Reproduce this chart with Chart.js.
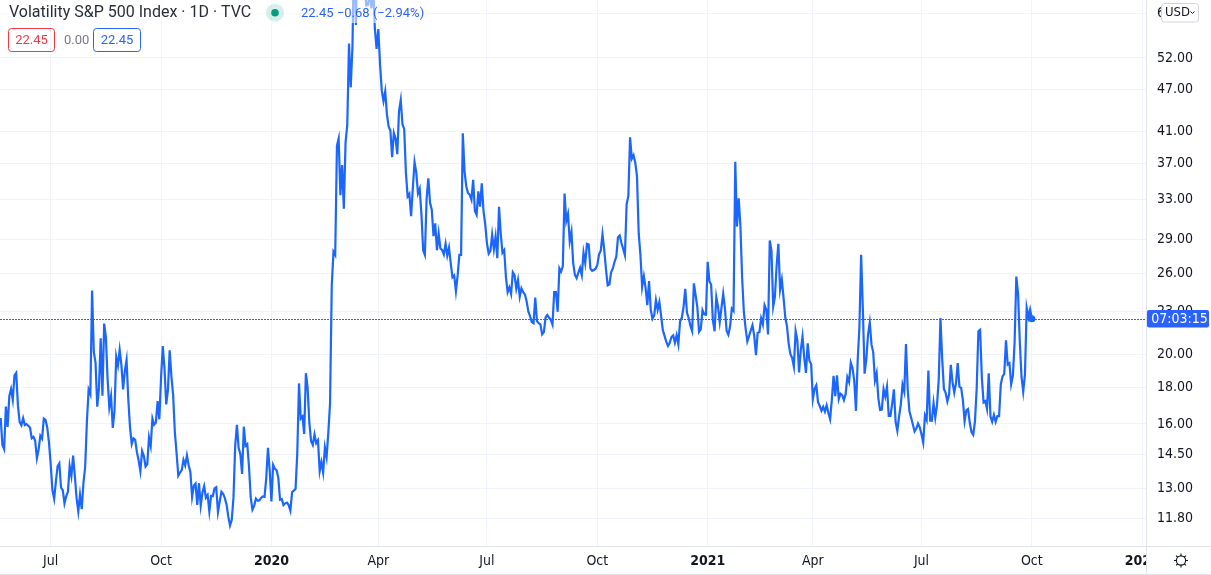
<!DOCTYPE html>
<html><head><meta charset="utf-8">
<script src="https://cdn.jsdelivr.net/npm/chart.js@4.4.1/dist/chart.umd.min.js"></script>
<style>html,body{margin:0;padding:0;background:#fff;overflow:hidden}#wrap{position:relative;width:1211px;height:575px}</style>
</head><body><div id="wrap"><canvas id="c" width="1211" height="575"></canvas></div>
<script>
// Daily closes, one value per trading day (first bar: 20 May 2019)
const vix2019 = [
16.31,14.95,14.75,16.92,15.85,17.50,17.90,17.30,18.71,18.86,16.97,16.09,15.93,16.30,15.94,15.99,15.91,15.82,15.28,15.35,15.15,14.33,14.75,15.40,15.26,16.28,16.21,15.82,15.08,
14.06,12.93,12.57,13.28,13.96,14.09,13.03,12.93,12.39,12.68,12.86,13.97,13.53,14.45,13.53,12.61,12.07,12.74,12.16,13.24,13.94,16.12,
17.87,17.61,24.59,20.17,19.49,16.91,17.97,21.09,17.52,22.10,21.18,18.47,16.88,17.50,15.80,16.68,19.87,19.32,20.31,19.35,17.88,18.98,
19.66,17.33,15.82,15.00,15.27,15.20,14.61,14.22,13.74,14.67,14.44,13.95,14.05,15.32,14.91,16.28,15.96,16.07,17.22,16.24,
18.56,20.56,19.12,17.04,17.86,20.28,18.64,17.57,15.58,14.57,13.54,13.68,13.79,14.25,14.00,14.46,14.01,13.71,12.65,13.11,13.20,12.33,13.22,
12.30,12.83,13.10,12.62,12.73,12.07,12.69,12.68,13.00,13.05,12.05,12.46,12.86,12.78,12.60,12.34,11.87,11.54,11.75,12.62,
14.91,15.96,14.80,14.52,13.62,15.86,14.91,14.99,13.94,12.63,12.14,12.29,12.58,12.50,12.51,12.61,12.67,12.65,13.43,14.82,13.78
];
const vix2020 = [
12.47,14.02,13.85,13.79,13.45,12.54,12.56,12.32,12.39,12.42,12.32,12.10,12.85,12.91,12.98,14.56,18.23,16.28,16.39,15.49,18.84,
17.97,16.05,15.15,14.96,15.47,15.04,15.18,13.74,14.15,13.68,14.83,14.38,15.56,17.08,25.03,27.85,27.56,39.16,40.11,
33.42,36.82,31.99,39.62,41.94,54.46,47.30,53.90,75.47,57.83,82.69,75.91,76.45,72.00,66.04,61.59,61.67,63.95,61.00,65.54,57.08,53.54,
57.06,50.91,46.80,45.24,46.70,43.35,41.67,41.17,37.76,40.84,40.11,38.15,43.83,45.41,41.98,41.38,35.93,33.29,33.57,31.23,34.15,
37.19,35.97,33.61,34.12,31.44,27.98,27.57,33.04,35.28,32.61,31.89,29.30,30.53,27.99,29.53,28.16,28.01,27.62,28.59,27.51,
28.23,26.84,25.66,25.81,24.52,25.81,27.57,27.57,40.79,36.09,34.40,33.67,33.47,32.94,35.12,31.77,31.37,33.84,32.22,34.73,31.78,30.43,
28.62,27.68,27.94,29.43,28.08,29.26,27.29,32.19,29.52,27.76,28.00,25.68,24.46,24.84,24.32,26.08,25.84,24.74,25.44,24.10,24.76,24.46,
24.28,23.76,22.99,22.65,22.21,22.13,24.03,22.28,22.13,22.05,21.35,21.51,22.54,22.72,22.54,22.37,22.03,24.47,24.47,22.96,26.41,
26.12,26.57,33.60,30.75,31.46,28.81,29.71,26.87,25.85,25.59,26.04,26.46,25.83,27.78,26.86,28.58,28.51,26.38,26.19,26.27,26.37,
26.70,27.63,27.96,29.48,28.06,26.36,25.00,25.07,26.07,26.40,26.97,27.41,29.18,29.35,28.65,28.11,27.55,32.46,33.35,40.28,37.59,38.02,
37.13,35.55,29.57,27.58,24.86,25.75,24.80,23.45,25.35,23.10,22.45,22.71,23.84,23.11,23.70,22.66,21.64,21.25,20.84,20.57,
20.77,21.17,21.28,20.79,21.30,20.68,22.27,22.52,23.31,24.72,22.89,22.50,21.93,21.57,25.16,24.23,23.31,21.53,21.70,23.08,22.77,22.75
];
const vix2021 = [
26.97,25.34,25.07,22.37,21.56,24.08,23.33,22.21,23.25,24.34,23.24,21.58,21.32,21.91,23.19,23.02,37.21,30.21,33.09,
30.24,25.56,22.91,21.77,20.87,21.24,21.63,21.99,21.25,19.97,21.46,21.50,22.49,22.05,23.45,23.11,21.34,28.89,27.95,
23.35,24.10,26.67,28.57,24.66,25.47,24.03,22.56,21.91,20.69,20.03,19.79,19.23,21.58,20.95,18.88,20.30,21.20,19.81,18.86,20.74,19.61,19.40,
17.33,17.91,18.12,17.16,16.95,16.69,16.91,16.65,16.99,16.57,16.25,17.29,18.68,17.50,18.71,17.33,17.64,17.56,17.28,17.61,18.61,
18.31,19.48,19.15,18.39,16.69,19.66,21.84,27.59,23.13,18.81,19.72,21.34,22.18,20.67,20.15,18.40,18.84,17.36,16.74,16.76,
17.90,17.48,18.04,16.42,16.42,17.07,17.89,16.10,15.65,16.39,17.02,18.15,17.75,20.70,17.89,16.66,16.32,15.97,15.62,15.76,16.02,15.83,
15.48,15.07,16.44,16.20,19.00,16.18,16.17,17.12,16.33,17.01,18.45,22.50,19.73,17.91,17.69,17.20,17.58,19.36,18.31,17.70,18.24,
19.46,18.04,17.97,17.28,16.15,16.72,16.79,16.06,15.59,15.45,16.12,17.91,21.57,21.67,18.56,17.15,17.22,16.79,18.84,16.39,16.11,16.48,
16.11,16.41,16.41,18.19,18.64,18.80,20.95,19.37,19.46,18.18,18.69,20.81,25.71,24.36,20.87,18.63,17.75,18.76,23.25,22.56,23.13,
22.45
];
// Time axis: bar index of each month label (trading-day index)
const monthTickIdx    = [29, 93, 157, 219, 282, 346, 410, 471, 534, 598, 662];
const monthTickLabels = ['Jul','Oct','2020','Apr','Jul','Oct','2021','Apr','Jul','Oct','2022'];
// Price axis (log) tick values
const yTicks = [11.8, 13, 14.5, 16, 18, 20, 23, 26, 29, 33, 37, 41, 47, 52, 60];
const xRange = [-0.4, 664.2];
const yRange = [10.80, 62.66];
const legendTitle = 'Volatility S\u0026P 500 Index \u00b7 1D \u00b7 TVC';
const countdownText = '07:03:15';
const spreadText = '0.00';
const currencyText = 'USD';

const values = vix2019.concat(vix2020, vix2021);
const last = values.length - 1;
const points = values.map((v, i) => ({x: i, y: v}));
const lastV = values[last], prevV = values[last - 1];
const chg = lastV - prevV, pct = chg / prevV * 100;
const minus = n => (n < 0 ? '\u2212' : '+') + Math.abs(n).toFixed(2);

const axisFont = "'Liberation Sans Narrow', 'DejaVu Sans Condensed', Roboto, sans-serif";
const uiFont = "Roboto, 'Liberation Sans', sans-serif";
const BLUE = '#2962ff';
const LINE = '#1a66ff';

function rrect(ctx, x, y, w, h, r) {
  ctx.beginPath();
  ctx.moveTo(x + r, y); ctx.lineTo(x + w - r, y); ctx.arcTo(x + w, y, x + w, y + r, r);
  ctx.lineTo(x + w, y + h - r); ctx.arcTo(x + w, y + h, x + w - r, y + h, r);
  ctx.lineTo(x + r, y + h); ctx.arcTo(x, y + h, x, y + h - r, r);
  ctx.lineTo(x, y + r); ctx.arcTo(x, y, x + r, y, r); ctx.closePath();
}
function noPad(s) { s.paddingTop = 0; s.paddingBottom = 0; s.paddingLeft = 0; s.paddingRight = 0; }

const overlay = {
  id: 'overlay',
  beforeDatasetsDraw(chart) {
    const {ctx, chartArea: a, scales: {y}} = chart;
    const py = Math.round(y.getPixelForValue(lastV));
    ctx.save();
    ctx.fillStyle = BLUE;
    for (let px = Math.round(a.left); px < a.right; px += 3) ctx.fillRect(px, py, 2, 1);
    ctx.restore();
  },
  afterDatasetsDraw(chart) {
    const {ctx, chartArea: a, scales: {x, y}} = chart;
    const W = chart.width, H = chart.height;
    ctx.save();
    // translucent legend backdrop
    ctx.fillStyle = 'rgba(255,255,255,0.55)';
    ctx.fillRect(0, 0, 430, 23);
    // frame lines
    ctx.fillStyle = '#e0e3eb';
    ctx.fillRect(0, a.bottom, W, 1);
    ctx.fillRect(a.right, 0, 1, H);
    ctx.fillRect(0, H - 1, W, 1);
    // time axis labels (clipped at price scale)
    ctx.save();
    ctx.beginPath(); ctx.rect(0, a.bottom + 1, a.right, H - a.bottom); ctx.clip();
    ctx.textAlign = 'center'; ctx.textBaseline = 'middle'; ctx.fillStyle = '#131722';
    monthTickIdx.forEach((v, i) => {
      const lab = monthTickLabels[i];
      const bold = /^\d{4}$/.test(lab);
      ctx.font = (bold ? 'bold ' : '') + '14px ' + axisFont;
      ctx.fillText(lab, x.getPixelForValue(v), 561);
    });
    ctx.restore();

    // legend row 1
    ctx.textAlign = 'left'; ctx.textBaseline = 'middle';
    ctx.font = '16px ' + uiFont; ctx.fillStyle = '#2a2e39';
    ctx.fillText(legendTitle, 9, 13);
    ctx.fillStyle = 'rgba(8,153,129,0.16)';
    ctx.beginPath(); ctx.arc(275, 12.7, 9, 0, Math.PI * 2); ctx.fill();
    ctx.fillStyle = '#089981';
    ctx.beginPath(); ctx.arc(275, 12.7, 3.8, 0, Math.PI * 2); ctx.fill();
    ctx.font = '13px ' + uiFont; ctx.fillStyle = BLUE;
    ctx.fillText(lastV.toFixed(2) + ' ' + minus(chg) + ' (' + minus(pct) + '%)', 301, 13.5);

    // legend row 2
    ctx.lineWidth = 1;
    rrect(ctx, 8.5, 28.5, 46, 23, 3); ctx.strokeStyle = '#f23645'; ctx.stroke();
    rrect(ctx, 93.5, 28.5, 47, 23, 3); ctx.strokeStyle = BLUE; ctx.stroke();
    ctx.font = '13px ' + uiFont; ctx.textAlign = 'center';
    ctx.fillStyle = '#f23645'; ctx.fillText(lastV.toFixed(2), 31.5, 40.5);
    ctx.fillStyle = BLUE; ctx.fillText(lastV.toFixed(2), 117, 40.5);
    ctx.fillStyle = '#787b86'; ctx.textAlign = 'left'; ctx.fillText(spreadText, 64, 40.5);

    // price label on the price scale
    const py = y.getPixelForValue(lastV);
    ctx.fillStyle = BLUE;
    rrect(ctx, a.right + 1, py - 8.7, 62, 17.4, 2); ctx.fill();
    ctx.fillStyle = '#ffffff'; ctx.textAlign = 'center';
    ctx.font = '14px ' + axisFont;
    ctx.fillText(countdownText, 1179.5, py + 0.5);

    // currency button
    rrect(ctx, 1161.5, 3.5, 37, 18.5, 3);
    ctx.fillStyle = '#ffffff'; ctx.fill();
    ctx.strokeStyle = '#d1d4dc'; ctx.stroke();
    ctx.fillStyle = '#131722'; ctx.textAlign = 'left';
    ctx.font = '13px ' + axisFont;
    ctx.fillText(currencyText, 1165, 13);
    ctx.strokeStyle = '#131722'; ctx.lineWidth = 1;
    ctx.beginPath(); ctx.moveTo(1190.5, 11.5); ctx.lineTo(1192.5, 13.5); ctx.lineTo(1194.5, 11.5); ctx.stroke();

    // settings (sun) icon
    const cx = 1181, cy = 560.5;
    ctx.strokeStyle = '#131722'; ctx.lineWidth = 1.1;
    ctx.beginPath(); ctx.arc(cx, cy, 4.6, 0, Math.PI * 2); ctx.stroke();
    for (let k = 0; k < 8; k++) {
      const ang = k * Math.PI / 4;
      ctx.beginPath();
      ctx.moveTo(cx + Math.cos(ang) * 4.6, cy + Math.sin(ang) * 4.6);
      ctx.lineTo(cx + Math.cos(ang) * 7, cy + Math.sin(ang) * 7);
      ctx.stroke();
    }
    ctx.restore();
  }
};

new Chart(document.getElementById('c'), {
  type: 'line',
  data: {datasets: [{
    data: points,
    borderColor: LINE,
    borderWidth: 2.2,
    pointRadius: c => (c.dataIndex === last ? 3.5 : 0),
    pointBackgroundColor: LINE,
    pointBorderWidth: 0,
    pointHoverRadius: 0,
    tension: 0,
    fill: false
  }]},
  options: {
    responsive: false,
    animation: false,
    devicePixelRatio: 1,
    layout: {padding: 0, autoPadding: false},
    events: [],
    plugins: {legend: {display: false}, tooltip: {enabled: false}, title: {display: false}},
    scales: {
      x: {
        type: 'linear', min: xRange[0], max: xRange[1], bounds: 'data',
        afterBuildTicks: s => { s.min = xRange[0]; s.max = xRange[1]; s.ticks = monthTickIdx.map(v => ({value: v})); },
        afterFit: s => { s.height = 29; noPad(s); },
        ticks: {display: false},
        grid: {color: '#f0f3fa', drawTicks: false, lineWidth: 1},
        border: {display: false}
      },
      y: {
        type: 'logarithmic', position: 'right', min: yRange[0], max: yRange[1], bounds: 'data',
        afterBuildTicks: s => { s.min = yRange[0]; s.max = yRange[1]; s.ticks = yTicks.map(v => ({value: v})); },
        afterFit: s => { s.width = 65; noPad(s); },
        ticks: {
          autoSkip: false,
          callback: v => Number(v).toFixed(2),
          color: '#131722',
          padding: 11,
          font: {family: axisFont, size: 14}
        },
        grid: {color: '#f0f3fa', drawTicks: false, lineWidth: 1},
        border: {display: false}
      }
    }
  },
  plugins: [overlay]
});
</script>
</body></html>
